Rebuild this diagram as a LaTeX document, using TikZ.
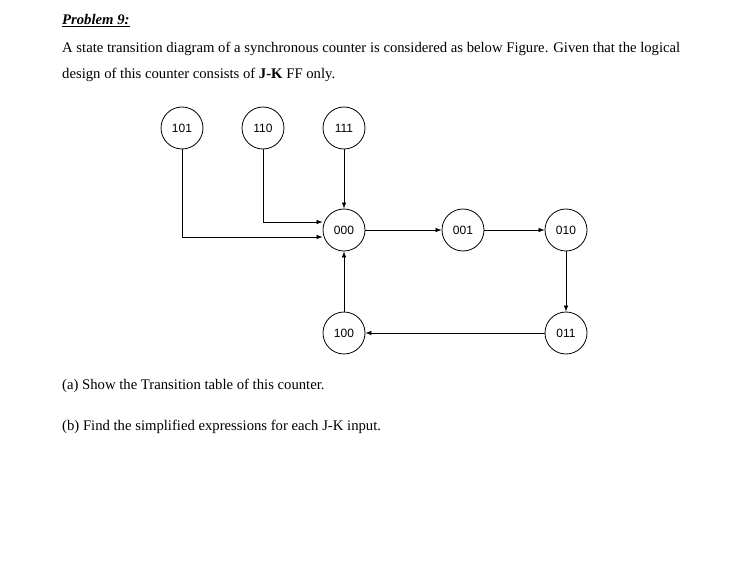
\documentclass[tikz,border=0pt]{standalone}
\usepackage{fontspec}
\setmainfont{Liberation Serif}
\newfontfamily\lsans{Liberation Sans}
\usetikzlibrary{arrows.meta}
\begin{document}
\begin{tikzpicture}[x=1pt,y=-1pt,
  st/.style={circle,draw,line width=0.8pt,minimum size=42pt,inner sep=0pt,font=\lsans\fontsize{12}{14}\selectfont},
  ar/.style={-{Latex[length=6pt,width=4.5pt]},line width=0.7pt},
  txt/.style={anchor=west,inner sep=0pt,font=\fontsize{14.7}{17}\selectfont}]
\useasboundingbox (0,0) rectangle (756,578);
\node[txt] (t0) at (62,21) {\textbf{\textit{\underline{Problem 9:}}}};
\node[txt] (t1) at (62,49) {A state transition diagram of a synchronous counter is considered as below Figure. Given that the logical};
\node[txt] (t2) at (62,75) {design of this counter consists of \textbf{J-K} FF only.};
\node[txt] (t3) at (62,386) {(a) Show the Transition table of this counter.};
\node[txt] (t4) at (62,427) {(b) Find the simplified expressions for each J-K input.};
\node[st] (a) at (182,128) {101};
\node[st] (b) at (263,128) {110};
\node[st] (c) at (344,128) {111};
\node[st] (s0) at (344,230) {000};
\node[st] (s1) at (463,230) {001};
\node[st] (s2) at (566,230) {010};
\node[st] (s3) at (566,333) {011};
\node[st] (s4) at (344,333) {100};
\draw[ar] (a.south) |- ([yshift=-7pt]s0.west);
\draw[ar] (b.south) |- ([yshift=8pt]s0.west);
\draw[ar] (c) -- (s0);
\draw[ar] (s0) -- (s1);
\draw[ar] (s1) -- (s2);
\draw[ar] (s2) -- (s3);
\draw[ar] (s3) -- (s4);
\draw[ar] (s4) -- (s0);
\end{tikzpicture}
\end{document}
